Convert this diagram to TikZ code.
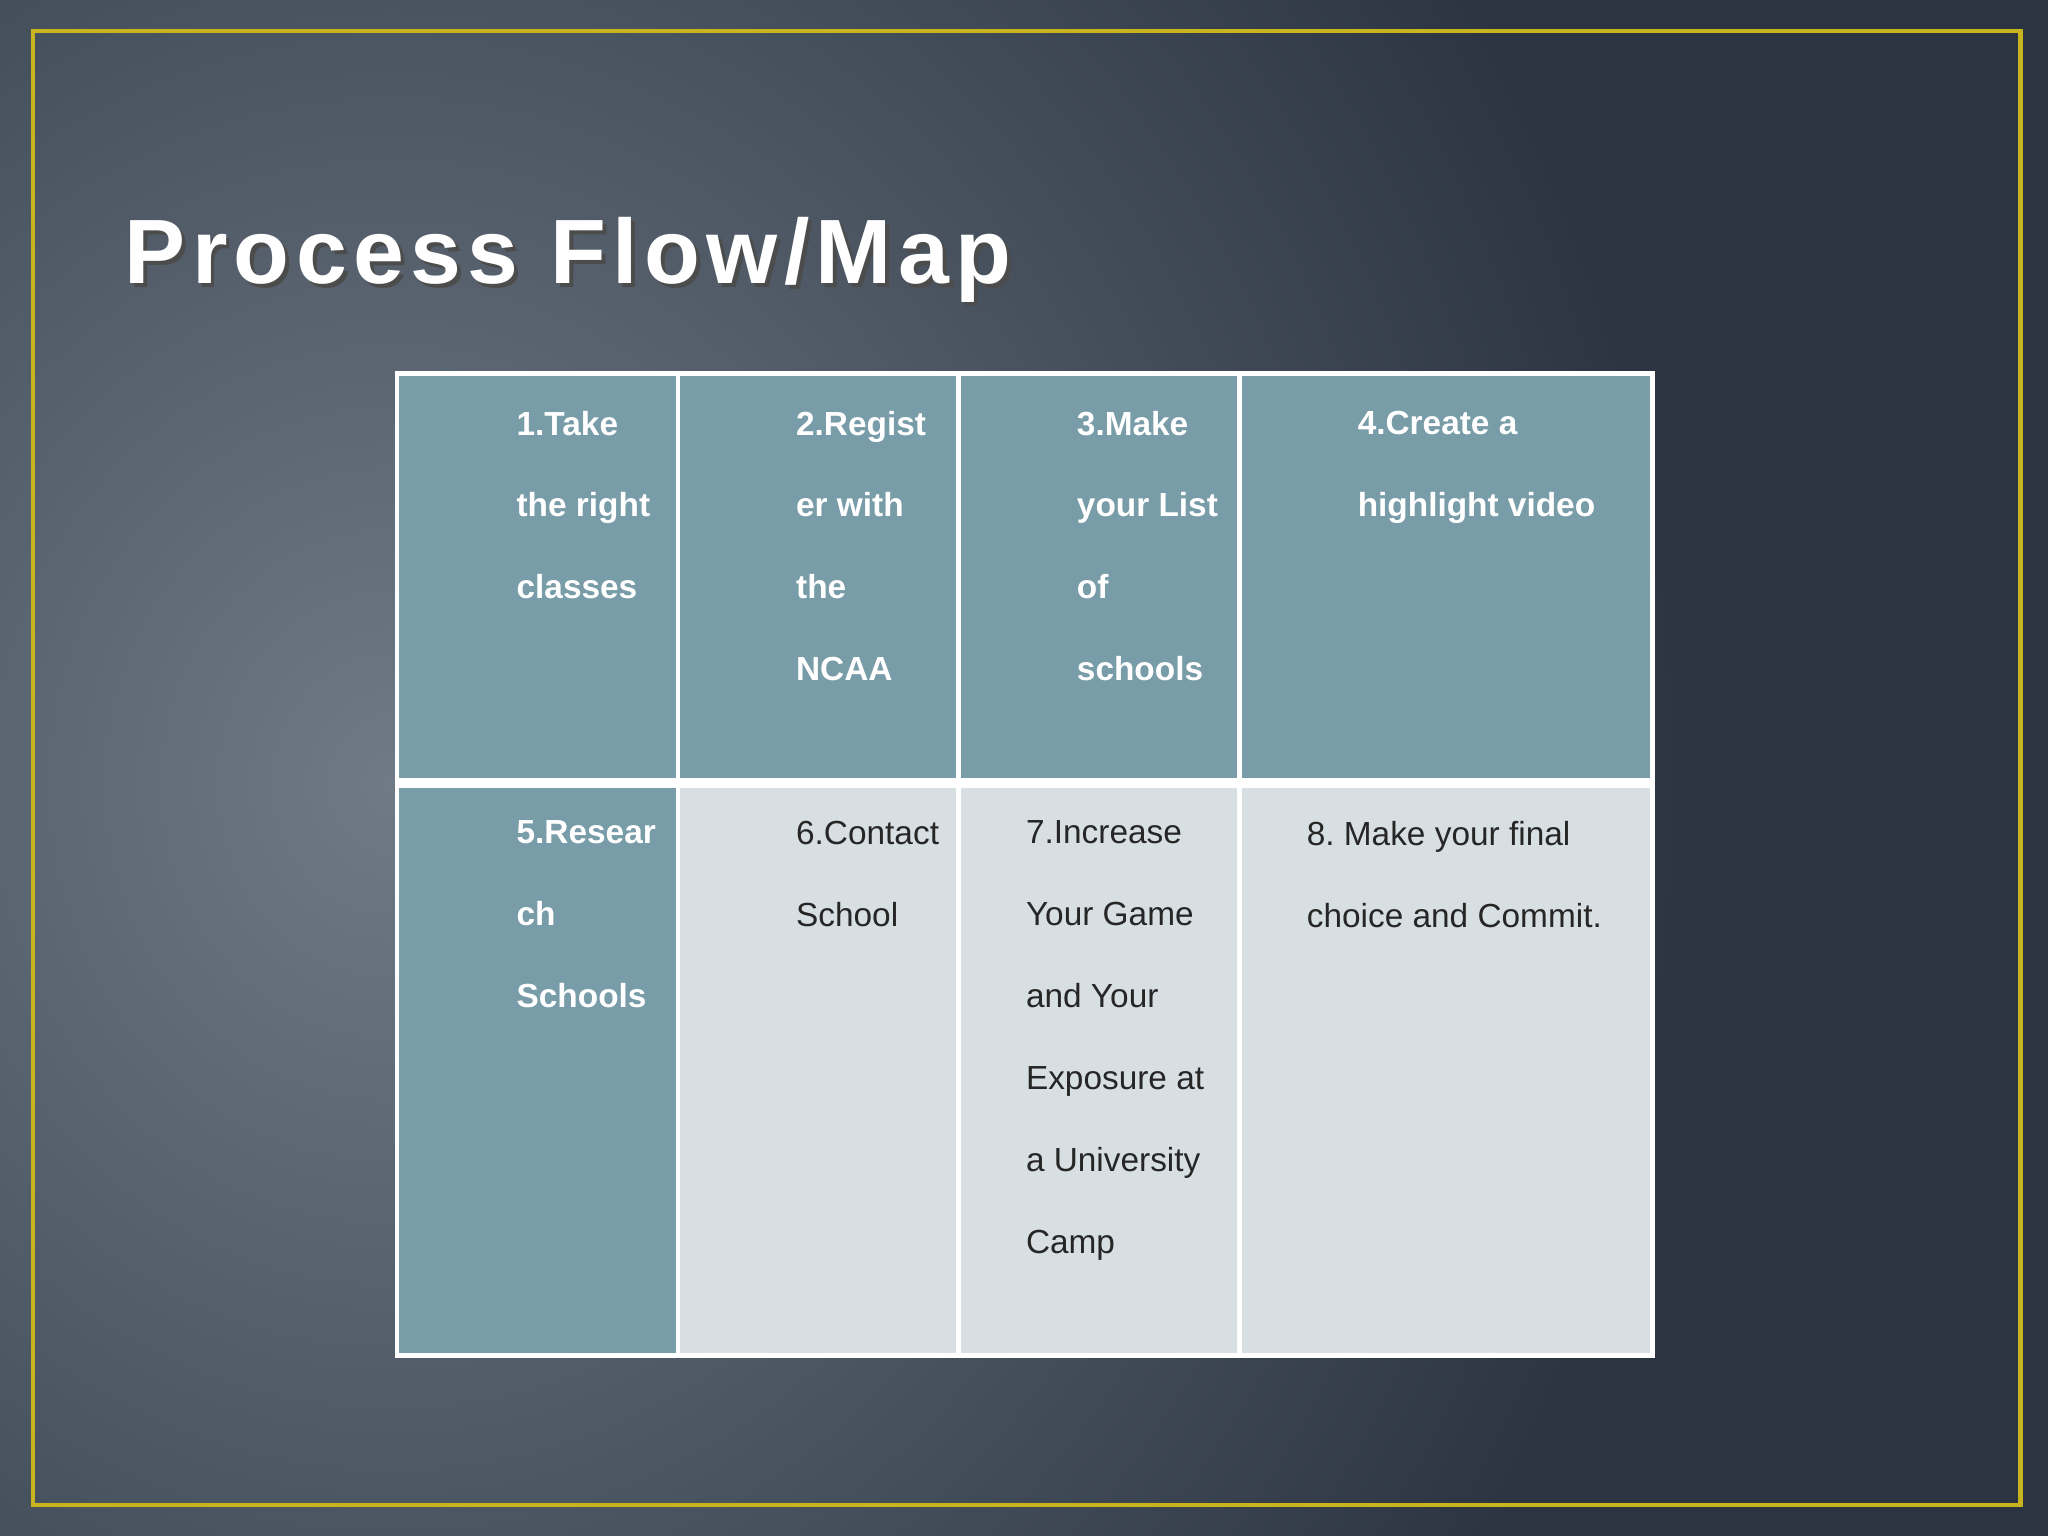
\documentclass[tikz,border=0pt]{standalone}
\usepackage{fontspec}
\setmainfont{Liberation Sans}
\newfontfamily\titlefont[LetterSpace=7]{Liberation Sans}
\usetikzlibrary{shadings}
\definecolor{bgA}{HTML}{6E7A86}
\definecolor{bgB}{HTML}{2B3440}
\definecolor{frameY}{HTML}{C8B41E}
\definecolor{cellDark}{HTML}{789CA8}
\definecolor{cellLight}{HTML}{D8DFE3}
\tikzset{
  celltxt/.style={anchor=north west,inner sep=0pt,align=left,text=white,font=\fontsize{9.5}{23.3}\selectfont\bfseries\frenchspacing},
  celltxtL/.style={anchor=north west,inner sep=0pt,align=left,text=black!85,font=\fontsize{9.5}{23.3}\selectfont\frenchspacing},
  gridline/.style={white,line width=1.3pt},
  titletxt/.style={anchor=base west,inner sep=0pt,font=\fontsize{26}{26}\selectfont\titlefont\bfseries}
}
\begin{document}
\begin{tikzpicture}[x=0.01306cm,y=-0.01306cm]
\useasboundingbox (0,0) rectangle (1568,1176);
\fill[bgB] (0,0) rectangle (1568,1176);
\shade[inner color=bgA,outer color=bgB] (-700,-500) rectangle (1300,1700);
\draw[frameY,line width=1.2pt] (25,24) rectangle (1547,1152);
\node[titletxt,text=black!70] (tshadow) at (98,220) {Process Flow/Map};
\node[titletxt,text=white] (title) at (95,217) {Process Flow/Map};
% cells
\fill[cellDark] (304,286) rectangle (1265,598);
\fill[cellDark] (304,601) rectangle (519,1038);
\fill[cellLight] (519,601) rectangle (1265,1038);
\draw[gridline] (304,286) rectangle (1265,1038);
\draw[white,line width=3pt] (304,599.5) -- (1265,599.5);
\foreach \x in {519,734,949} \draw[gridline] (\x,286) -- (\x,1038);
% texts
\node[celltxt] (c1) at (395,314) {1.Take\\the right\\classes};
\node[celltxt] (c2) at (609,314) {2.Regist\\er with\\the\\NCAA};
\node[celltxt] (c3) at (824,314) {3.Make\\your List\\of\\schools};
\node[celltxt] (c4) at (1039,314) {4.Create a\\highlight video};
\node[celltxt] (c5) at (395,628) {5.Resear\\ch\\Schools};
\node[celltxtL] (c6) at (609,628) {6.Contact\\School};
\node[celltxtL] (c7) at (785,628) {7.Increase\\Your Game\\and Your\\Exposure at\\a University\\Camp};
\node[celltxtL] (c8) at (1000,628) {8. Make your final\\choice and Commit.};
\end{tikzpicture}
\end{document}
